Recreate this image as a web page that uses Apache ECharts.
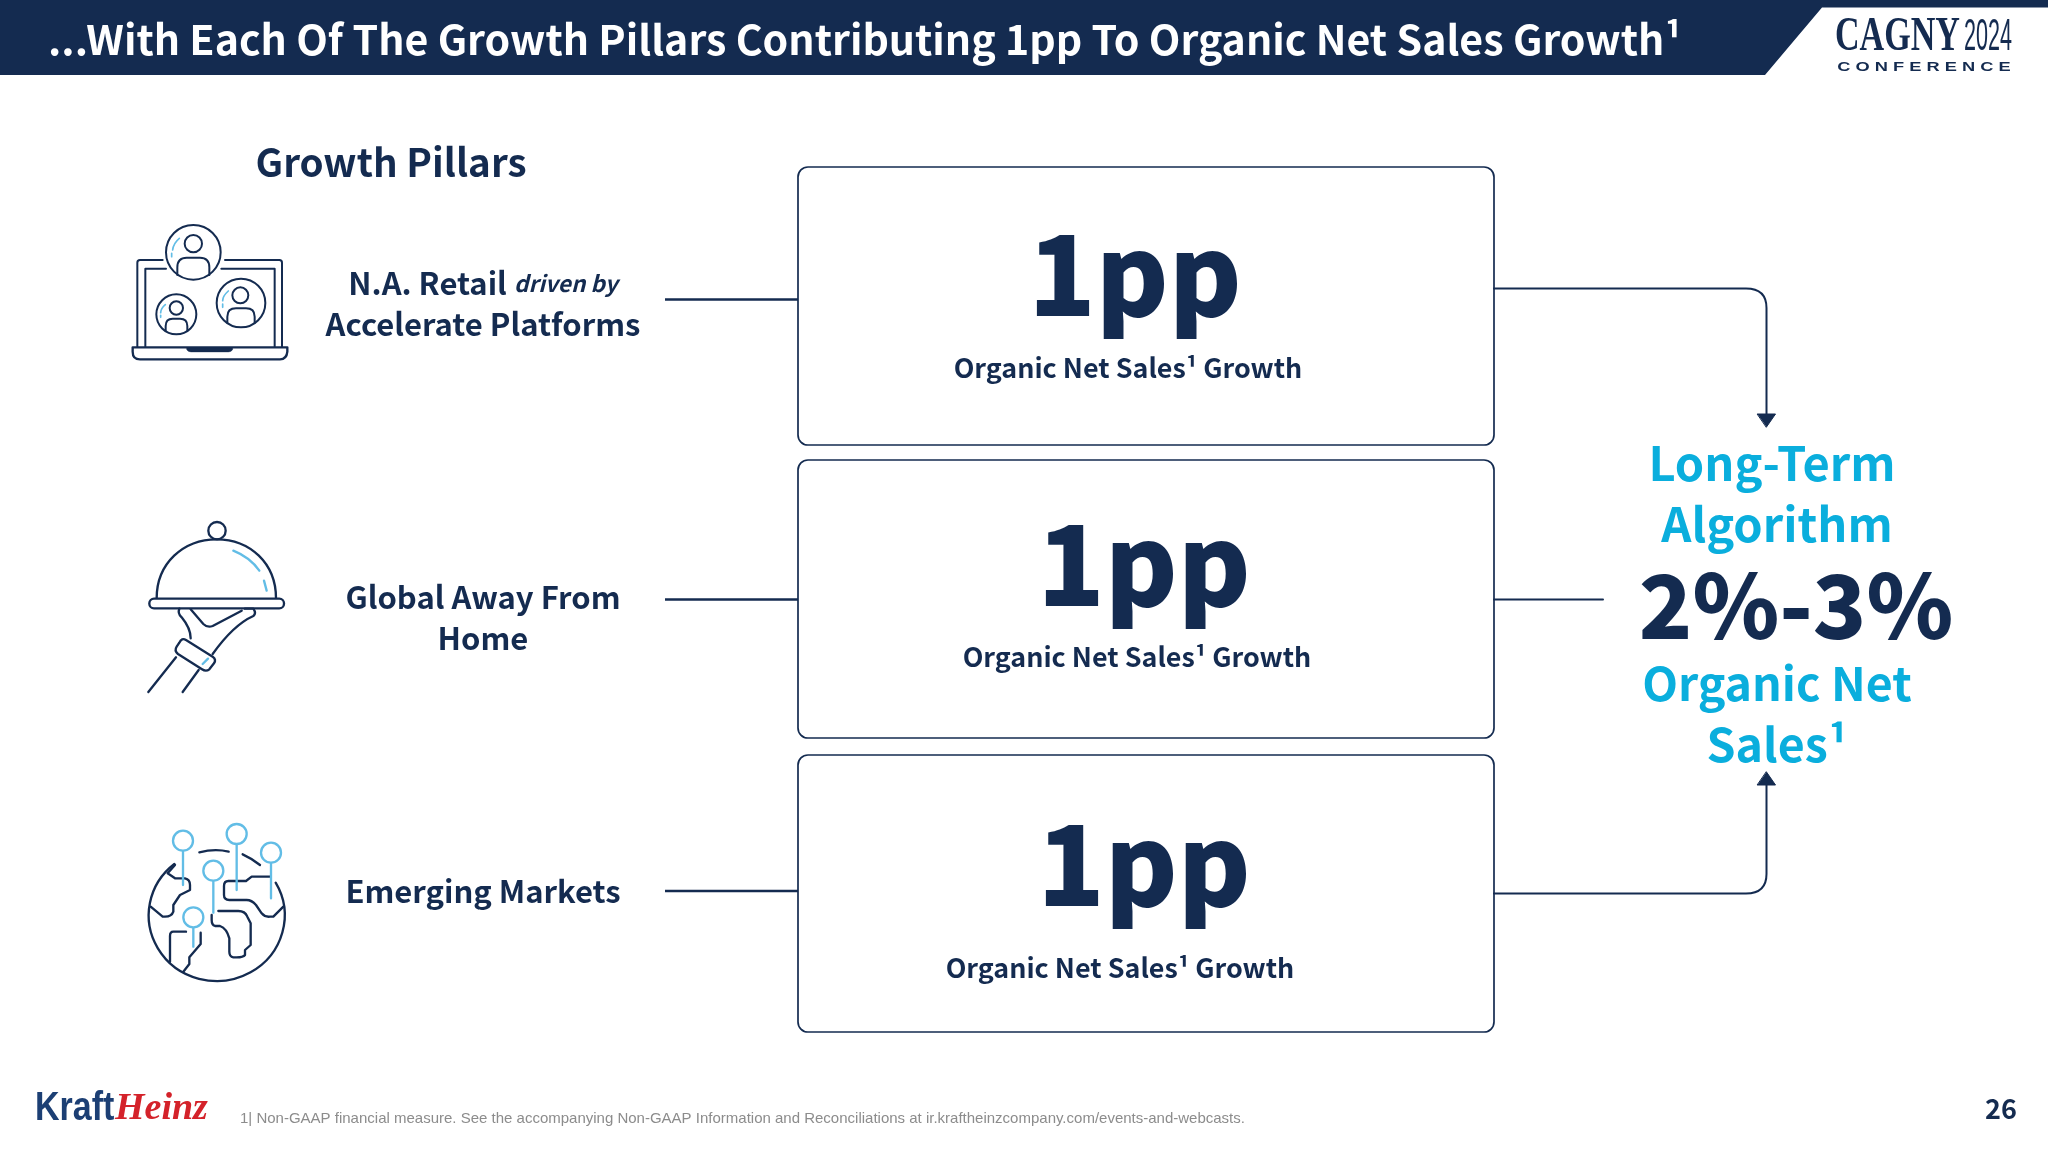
<!DOCTYPE html>
<html>
<head>
<meta charset="utf-8">
<title>Growth Pillars</title>
<script src="https://cdn.jsdelivr.net/npm/echarts@6/dist/echarts.min.js"></script>
<style>
  html, body { margin: 0; padding: 0; background: #fff; }
  #main { width: 2048px; height: 1152px; }
</style>
</head>
<body>
<div id="main"></div>
<script>
// slide content
var slideTitle = '...With Each Of The Growth Pillars Contributing 1pp To Organic Net Sales Growth¹';
var pillarsHeading = 'Growth Pillars';
var pillarLabels = [
    ['{a|N.A. Retail} {b|driven by}', 'Accelerate Platforms'],
    ['Global Away From', 'Home'],
    ['Emerging Markets']
];
var contributions = ['1pp', '1pp', '1pp'];
var contributionNote = 'Organic Net Sales¹ Growth';
var algoTop = ['Long-Term', 'Algorithm'];
var algoRange = '2%-3%';
var algoBottom = ['Organic Net', 'Sales¹'];
var footnote = '1| Non-GAAP financial measure. See the accompanying Non-GAAP Information and Reconciliations at ir.kraftheinzcompany.com/events-and-webcasts.';
var pageNumber = '26';

var NAVY = '#142b50';
var CYAN = '#0aaedd';
var LIGHT = '#62bde6';
var FONT = '"Noto Sans CJK SC"';

var myChart = echarts.init(document.getElementById('main'));
var shapeId = 0;

function txt(text, x, y, size, color, opt) {
    opt = opt || {};
    var el = {
        type: 'text',
        x: x,
        y: y,
        style: {
            text: text,
            x: 0,
            y: 0,
            fill: color,
            fontFamily: opt.family || FONT,
            fontSize: size,
            fontWeight: opt.weight || 'bold',
            fontStyle: opt.italic ? 'italic' : 'normal',
            align: opt.align || 'center',
            verticalAlign: 'middle'
        }
    };
    if (opt.rich) el.style.rich = opt.rich;
    if (opt.scaleX) el.scaleX = opt.scaleX;
    return el;
}

// path element from svg path data, no resize of the path
function pathEl(d, stroke, width, fill) {
    var name = 'slidePath' + (shapeId++);
    echarts.graphic.registerShape(name, echarts.graphic.extendPath(d));
    return {
        type: name,
        style: {
            fill: fill || 'none',
            stroke: stroke,
            lineWidth: width,
            lineCap: 'round',
            lineJoin: 'round'
        }
    };
}

function ring(cx, cy, r, color, width) {
    return {
        type: 'circle',
        shape: { cx: cx, cy: cy, r: r },
        style: { fill: '#fff', stroke: color, lineWidth: width }
    };
}

// icons are traced at 3x, then scaled down by the group
function icon(x, y, children) {
    return { type: 'group', x: x, y: y, scaleX: 1 / 3, scaleY: 1 / 3, children: children };
}

var laptopIcon = icon(120, 210, [
    pathEl('M52 410 V158 Q52 150 60 150 H128 M315 150 H478 Q486 150 486 158 V410', NAVY, 6),
    pathEl('M76 410 V176 H138 M304 176 H464 V410', NAVY, 6),
    pathEl('M38 412 H502 V425 Q500 448 480 448 H60 Q38 448 38 425 Z', NAVY, 7),
    pathEl('M200 414 H338 V418 Q335 426 325 426 H213 Q203 426 200 418 Z', NAVY, 1, NAVY),
    ring(220, 127, 82, NAVY, 6),
    ring(220, 101, 26, NAVY, 6),
    pathEl('M172 195 V172 Q172 143 200 143 H240 Q268 143 268 172 V195', NAVY, 6),
    pathEl('M178 85 Q160 100 158 120 M155 130 V140', LIGHT, 5),
    ring(363, 279, 73, NAVY, 6),
    ring(361, 256, 24, NAVY, 6),
    pathEl('M322 338 V320 Q322 295 348 295 H378 Q404 295 404 320 V338', NAVY, 6),
    pathEl('M325 243 Q308 258 308 272 M308 282 V292', LIGHT, 5),
    ring(169, 313, 60, NAVY, 6),
    ring(169, 294, 20, NAVY, 6),
    pathEl('M137 362 V348 Q137 326 158 326 H180 Q202 326 202 348 V362', NAVY, 6),
    pathEl('M136 284 Q122 296 122 308 M122 316 V322', LIGHT, 5)
]);

var clocheIcon = icon(120, 500, [
    ring(291, 92, 26, NAVY, 7),
    pathEl('M110 295 C110 190 190 118 290 118 C390 118 468 190 468 295', NAVY, 7),
    { type: 'rect', shape: { x: 88, y: 296, width: 404, height: 29, r: 14 }, style: { fill: '#fff', stroke: NAVY, lineWidth: 7 } },
    pathEl('M178 326 Q172 340 185 352 Q212 385 212 415', NAVY, 7),
    pathEl('M212 328 L250 372 Q262 384 278 378 L365 332', NAVY, 7),
    pathEl('M375 326 H400 Q410 340 400 348 Q340 375 278 462', NAVY, 7),
    pathEl('M178 428 Q185 412 198 420 L278 470 Q290 478 282 490 L268 508 Q258 516 246 508 L174 462 Q162 452 170 440 Z', NAVY, 7),
    pathEl('M168 472 L85 576 M236 510 L188 576', NAVY, 7),
    pathEl('M340 152 Q390 172 418 212 M432 242 L440 272 M248 492 L264 476', LIGHT, 7)
]);

var globeIcon = icon(130, 810, [
    pathEl('M437 218 A204 197 0 1 1 133 162', NAVY, 7),
    pathEl('M208 127 Q255 115 296 125 M338 133 Q365 145 390 165', NAVY, 7),
    pathEl('M135 165 L113 190 L135 205 H165 Q180 208 180 225 V240 L150 255 L130 285 V305 Q125 320 105 320 H98 L62 290', NAVY, 7),
    pathEl('M420 200 H365 L348 213 H295 Q282 213 282 228 V255 Q282 270 298 270 H350 Q365 270 378 285 L395 310 Q405 322 420 320 H430 L460 290', NAVY, 7),
    pathEl('M265 303 H325 Q345 303 352 320 L362 340 V405 L345 420 V435 Q340 442 320 442 H310 Q298 440 298 425 V385 Q290 355 270 348 H255 Q245 345 245 330 V315', NAVY, 7),
    pathEl('M168 365 H130 Q120 365 120 378 V455 M212 368 V402 L178 442 V462 L160 485', NAVY, 7),
    pathEl('M159 122 V225 M320 102 V240 M423 158 V265 M250 212 V308 M190 352 V410', LIGHT, 7),
    ring(159, 92, 30, LIGHT, 7),
    ring(320, 72, 30, LIGHT, 7),
    ring(423, 128, 30, LIGHT, 7),
    ring(250, 182, 30, LIGHT, 7),
    ring(190, 322, 30, LIGHT, 7)
]);

var elements = [
    // header band with the cut corner
    {
        type: 'polygon',
        shape: { points: [[0, 0], [2048, 0], [2048, 7.5], [1822, 7.5], [1765, 75], [0, 75]] },
        style: { fill: NAVY }
    },
    txt(slideTitle, 48, 39.5, 41.1, '#fff', { align: 'left' }),
    // conference logo
    txt('CAGNY', 1835, 38, 48, NAVY, { align: 'left', family: '"Liberation Serif"', scaleX: 0.71 }),
    txt('2024', 1964, 38, 44, NAVY, { align: 'left', family: '"Liberation Sans"', weight: 'normal', scaleX: 0.49 }),
    txt('C O N F E R E N C E', 1924, 68, 12.5, NAVY, { family: '"Liberation Sans"', scaleX: 1.46 }),

    txt(pillarsHeading, 391, 162, 38.6, NAVY),
    laptopIcon, clocheIcon, globeIcon
];

// left hand labels
var labelY = [[283, 324], [597, 638], [891]];
pillarLabels.forEach(function (lines, i) {
    lines.forEach(function (line, j) {
        elements.push(txt(line, 483, labelY[i][j], 31, NAVY, {
            rich: {
                a: { fontFamily: FONT, fontSize: 31, fontWeight: 'bold', fill: NAVY },
                b: { fontFamily: FONT, fontSize: 22.5, fontWeight: 'bold', fontStyle: 'italic', fill: NAVY }
            }
        }));
    });
});

// boxes, with big number and note
var boxTop = [167, 460, 755];
var boxBottom = [445, 738, 1032];
var valueX = [1135, 1144, 1144];
var valueY = [274, 564, 864];
var noteX = [1128, 1137, 1120];
var noteY = [368, 657, 968];
var stubY = [299.5, 599.5, 891];
contributions.forEach(function (val, i) {
    elements.push({
        type: 'rect',
        shape: { x: 798, y: boxTop[i], width: 696, height: boxBottom[i] - boxTop[i], r: 10 },
        style: { fill: '#fff', stroke: NAVY, lineWidth: 1.7 }
    });
    elements.push(txt(val, valueX[i], valueY[i], 111, NAVY, { weight: 900 }));
    elements.push(txt(contributionNote, noteX[i], noteY[i], 26.9, NAVY));
    elements.push({
        type: 'line',
        shape: { x1: 665, y1: stubY[i], x2: 798, y2: stubY[i] },
        style: { stroke: NAVY, lineWidth: 2.5 }
    });
});

// connectors into the algorithm block
elements.push(pathEl('M1494 288.5 H1746 Q1766.5 288.5 1766.5 308 V415', NAVY, 2));
elements.push(pathEl('M1757.5 414 H1775.5 L1766.5 427 Z', NAVY, 1, NAVY));
elements.push(pathEl('M1494 599.5 H1603', NAVY, 2));
elements.push(pathEl('M1494 893.5 H1746 Q1766.5 893.5 1766.5 874 V785', NAVY, 2));
elements.push(pathEl('M1757.5 785 H1775.5 L1766.5 772 Z', NAVY, 1, NAVY));

// algorithm block
elements.push(txt(algoTop[0], 1772, 463, 47, CYAN));
elements.push(txt(algoTop[1], 1777, 524, 47, CYAN));
elements.push(txt(algoRange, 1796, 606, 88, NAVY, { weight: 900 }));
elements.push(txt(algoBottom[0], 1777, 683, 46.5, CYAN));
elements.push(txt(algoBottom[1], 1777, 744, 46.5, CYAN));

// footer
elements.push(txt('Kraft', 35, 1109, 40, '#1c3f74', { align: 'left', family: '"Liberation Sans"', scaleX: 0.85 }));
elements.push(txt('Heinz', 115, 1109, 38, '#d4222a', { align: 'left', family: '"Liberation Serif"', italic: true }));
elements.push(txt(footnote, 240, 1119, 15, '#8c8c8c', { align: 'left', family: '"Liberation Sans"', weight: 'normal' }));
elements.push(txt(pageNumber, 2001, 1109, 27, NAVY));

myChart.setOption({
    backgroundColor: '#fff',
    animation: false,
    graphic: { elements: elements }
});
</script>
</body>
</html>
